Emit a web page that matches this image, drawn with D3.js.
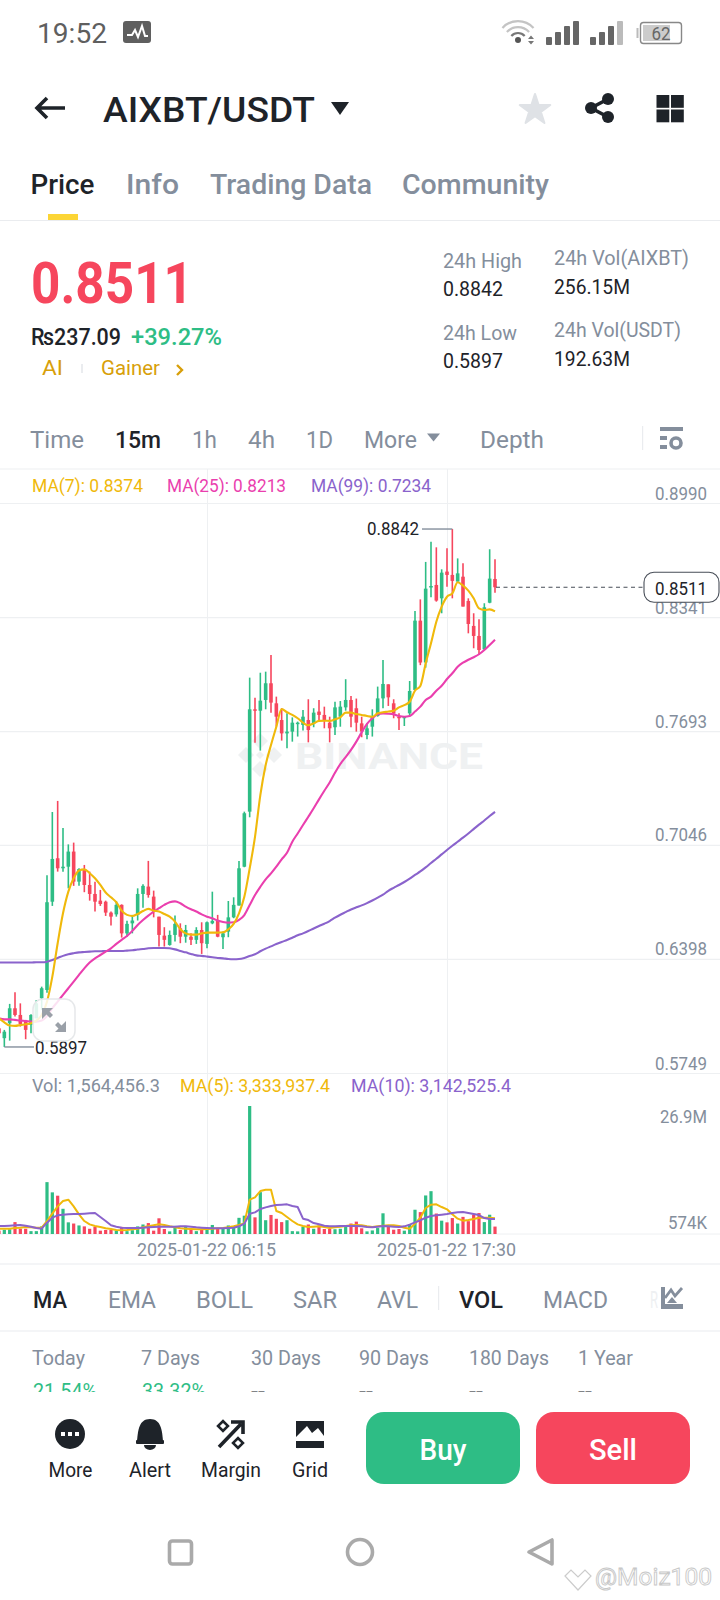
<!DOCTYPE html>
<html lang="en">
<head>
<meta charset="UTF-8">
<title>AIXBT/USDT</title>
<script src="https://cdn.jsdelivr.net/npm/d3@7"></script>
<style>
    body { margin: 0; background: #fff; }
    svg { display: block; font-family: Roboto, "DejaVu Sans", sans-serif; }
</style>
</head>
<body>
<svg width="720" height="1600"></svg>
<script>
// 15m candles
var opens = [
    .6003,.5947,.6032,.6117,.6079,.6047,.6022,.6060,.6174,.6221,
    .6723,.6970,.6913,.6922,.7008,.6837,.6904,.6818,.6767,.6729,
    .6723,.6661,.6651,.6705,.6543,.6600,.6648,.6767,.6809,.6752,
    .6638,.6530,.6477,.6534,.6572,.6524,.6524,.6506,.6562,.6483,
    .6600,.6619,.6521,.6553,.6634,.6701,.6922,.7235,.7817,.7809,
    .7870,.7965,.7851,.7756,.7680,.7690,.7734,.7728,.7756,.7737,
    .7804,.7785,.7741,.7715,.7775,.7828,.7870,.7823,.7737,.7671,
    .7718,.7779,.7879,.7959,.7851,.7775,.7766,.7794,.7927,.8321,
    .8083,.8510,.8524,.8448,.8600,.8581,.8543,.8571,.8433,.8291,
    .8234,.8158,.8423,.8558];
var highs = [
    .6032,.5994,.6142,.6208,.6145,.6051,.6083,.6164,.6240,.6873,
    .7233,.7296,.7142,.7049,.7059,.6913,.6932,.6894,.6837,.6790,
    .6729,.6667,.6727,.6708,.6614,.6648,.6799,.6822,.6955,.6786,
    .6638,.6578,.6559,.6644,.6600,.6591,.6543,.6578,.6606,.6610,
    .6780,.6648,.6553,.6727,.6748,.6955,.7235,.7997,.7883,.8025,
    .8031,.8126,.7889,.7823,.7794,.7771,.7747,.7813,.7874,.7823,
    .7870,.7832,.7775,.7860,.7864,.7988,.7893,.7878,.7775,.7737,
    .7817,.7946,.8097,.7959,.7874,.7794,.7775,.7978,.8376,.8442,
    .8655,.8770,.8738,.8613,.8732,.8842,.8675,.8647,.8448,.8363,
    .8329,.8420,.8727,.8670];
var lows = [
    .5956,.5897,.5933,.6070,.6013,.5941,.5975,.6060,.6108,.6206,
    .6699,.6894,.6894,.6799,.6813,.6814,.6777,.6729,.6667,.6699,
    .6642,.6587,.6638,.6519,.6524,.6543,.6616,.6689,.6746,.6634,
    .6468,.6468,.6473,.6496,.6487,.6490,.6477,.6483,.6426,.6458,
    .6595,.6521,.6454,.6521,.6629,.6701,.6919,.7203,.7627,.7582,
    .7817,.7798,.7718,.7639,.7595,.7633,.7662,.7696,.7629,.7715,
    .7756,.7709,.7629,.7671,.7718,.7809,.7715,.7690,.7658,.7646,
    .7662,.7775,.7823,.7836,.7766,.7699,.7722,.7775,.7927,.8068,
    .8054,.8454,.8429,.8363,.8514,.8448,.8543,.8401,.8249,.8164,
    .8126,.8154,.8420,.8480];
var closes = [
    .5975,.5984,.6117,.6079,.6028,.5994,.6079,.6145,.6231,.6720,
    .6966,.6913,.6922,.7008,.6837,.6909,.6818,.6767,.6723,.6710,
    .6661,.6638,.6705,.6543,.6597,.6616,.6767,.6813,.6761,.6667,
    .6534,.6506,.6534,.6597,.6524,.6562,.6506,.6562,.6487,.6606,
    .6614,.6524,.6543,.6634,.6705,.6913,.7226,.7817,.7809,.7866,
    .7965,.7855,.7775,.7680,.7690,.7741,.7741,.7775,.7699,.7798,
    .7785,.7756,.7709,.7828,.7832,.7870,.7775,.7741,.7690,.7709,
    .7775,.7879,.7961,.7885,.7794,.7766,.7775,.7921,.8321,.8083,
    .8503,.8518,.8435,.8594,.8581,.8547,.8590,.8401,.8302,.8234,
    .8154,.8397,.8560,.8511];
var ma7 = [
    .6060,.6037,.6019,.6017,.6022,.6026,.6032,.6047,.6079,.6155,
    .6297,.6487,.6657,.6780,.6856,.6900,.6907,.6885,.6856,.6818,
    .6775,.6748,.6720,.6672,.6648,.6642,.6653,.6670,.6682,.6672,
    .6667,.6653,.6638,.6610,.6566,.6543,.6536,.6536,.6543,.6547,
    .6547,.6547,.6549,.6566,.6597,.6657,.6751,.6912,.7092,.7329,
    .7500,.7614,.7718,.7819,.7800,.7785,.7766,.7741,.7726,.7737,
    .7751,.7752,.7751,.7760,.7771,.7798,.7798,.7790,.7785,.7779,
    .7775,.7794,.7800,.7804,.7809,.7828,.7841,.7860,.7923,.7950,
    .8078,.8192,.8315,.8401,.8457,.8476,.8539,.8520,.8492,.8448,
    .8391,.8382,.8385,.8374];
var ma25 = [
    .6060,.6054,.6054,.6051,.6047,.6045,.6041,.6041,.6047,.6073,
    .6117,.6155,.6193,.6231,.6269,.6307,.6344,.6377,.6401,.6420,
    .6439,.6458,.6483,.6506,.6528,.6557,.6591,.6619,.6644,.6667,
    .6686,.6705,.6720,.6725,.6714,.6695,.6680,.6667,.6651,.6638,
    .6629,.6616,.6608,.6604,.6606,.6619,.6647,.6704,.6761,.6808,
    .6850,.6884,.6922,.6964,.7001,.7064,.7111,.7159,.7206,.7254,
    .7305,.7354,.7401,.7456,.7506,.7545,.7586,.7633,.7686,.7734,
    .7766,.7788,.7794,.7792,.7788,.7779,.7775,.7779,.7804,.7832,
    .7870,.7889,.7923,.7951,.7989,.8022,.8059,.8082,.8099,.8113,
    .8130,.8154,.8183,.8213];
var ma99 = [
    .6377,.6377,.6377,.6377,.6377,.6377,.6377,.6379,.6379,.6382,
    .6392,.6403,.6415,.6424,.6430,.6435,.6437,.6439,.6441,.6441,
    .6443,.6443,.6443,.6443,.6445,.6447,.6451,.6454,.6458,.6460,
    .6460,.6460,.6458,.6452,.6443,.6435,.6426,.6418,.6415,.6411,
    .6407,.6403,.6401,.6397,.6396,.6397,.6403,.6414,.6424,.6441,
    .6456,.6469,.6482,.6494,.6505,.6518,.6532,.6543,.6556,.6571,
    .6585,.6598,.6613,.6632,.6649,.6664,.6679,.6691,.6702,.6715,
    .6730,.6746,.6763,.6785,.6802,.6818,.6835,.6854,.6875,.6895,
    .6918,.6943,.6967,.6992,.7017,.7041,.7064,.7087,.7111,.7136,
    .7161,.7185,.7210,.7234];
// volume in millions
var volumes = [
    .7,.9,1.0,2.5,1.1,1.1,.6,.6,1.6,10.9,
    8.75,8.05,5.3,2.45,2.2,1.8,1.6,1.1,1.5,.7,
    .85,.85,.7,1.5,.6,.8,1.6,2.0,2.3,.7,
    3.3,1.05,.55,1.7,.85,1.7,1.1,.6,1.1,1.1,
    1.9,1.1,1.1,1.8,1.4,3.4,3.85,26.9,3.5,8.8,
    2.9,4.0,3.2,2.5,2.9,.6,.55,1.5,2.0,1.1,
    1.8,1.05,1.05,1.0,1.1,1.8,2.2,2.6,1.2,.55,
    .75,1.25,4.35,1.5,.9,1.05,.7,2.0,5.1,4.6,
    8.1,9.0,4.3,2.8,2.45,3.35,2.2,3.6,2.7,4.05,
    4.4,2.5,4.05,1.56];
var volMa5 = [
    1.12,1.12,1.12,1.26,1.33,1.47,1.40,1.33,1.33,2.73,
    4.27,5.81,6.93,7.21,5.81,4.13,2.73,2.03,1.68,1.47,
    1.19,1.05,.84,.77,.84,.98,1.12,1.40,1.61,1.82,
    2.03,1.89,1.61,1.40,1.19,1.12,1.05,.98,.98,1.05,
    1.12,1.19,1.26,1.40,1.61,1.89,2.24,7.21,7.70,9.03,
    9.31,9.31,4.83,4.41,3.57,2.73,2.03,1.68,1.47,1.54,
    1.61,1.47,1.26,1.40,1.54,1.68,1.82,1.89,1.82,1.61,
    1.47,1.61,1.75,1.82,1.82,1.68,1.33,1.12,2.17,3.43,
    5.46,6.16,6.23,5.67,5.18,4.13,3.22,2.80,2.94,3.15,
    3.43,3.43,3.43,3.33];
var volMa10 = [
    1.68,1.68,1.75,1.82,1.89,1.75,1.54,1.26,1.12,2.38,
    3.43,3.92,4.06,4.13,4.20,4.20,4.27,4.34,4.41,3.57,
    2.73,1.82,1.54,1.33,1.26,1.26,1.26,1.33,1.40,1.47,
    1.54,1.54,1.54,1.54,1.61,1.61,1.54,1.40,1.33,1.26,
    1.19,1.19,1.19,1.26,1.33,1.61,2.17,4.27,4.55,5.25,
    5.60,5.88,6.09,6.16,6.23,5.88,5.67,3.22,2.94,2.31,
    2.03,1.75,1.61,1.61,1.68,1.68,1.68,1.68,1.61,1.47,
    1.40,1.54,1.68,1.61,1.54,1.47,1.61,1.96,2.45,2.87,
    3.43,3.78,3.92,4.06,4.20,4.41,4.55,4.62,4.41,4.20,
    3.99,3.36,3.15,3.14];

var priceTicks = [0.8990, 0.8341, 0.7693, 0.7046, 0.6398, 0.5749];
var volTicks = [26.9, 0.574];
var volTickLabels = ['26.9M', '574K'];
var timeTicks = [39, 84];
var timeTickLabels = ['2025-01-22 06:15', '2025-01-22 17:30'];
var highIndex = 85, lowIndex = 1, lastPrice = 0.8511;

var GREEN = '#2ebd85', RED = '#f6465d', DARK = '#1e2329', GRAY = '#848e9c', LINE = '#eef0f2';
var YELLOW = '#f0b90b', PINK = '#ea3fae', PURPLE = '#8a63cc';

var svg = d3.select('svg');

// text helper, w = width to fit it to
function txt(parent, x, y, str, size, color, w, weight, anchor) {
    var t = parent.append('text').attr('x', x).attr('y', y).text(str)
        .attr('font-size', size).attr('fill', color)
        .attr('font-weight', weight || 400).attr('text-anchor', anchor || 'start');
    if (w) t.attr('textLength', w).attr('lengthAdjust', 'spacingAndGlyphs');
    return t;
}

var x = d3.scaleLinear().domain([0, 93]).range([-1, 495]);
var y = d3.scaleLinear().domain([0.5749, 0.8990]).range([1073, 503]);
var vy = d3.scaleLinear().domain([0, 26.9]).range([1234, 1106]);

drawHeader();
drawChart();
drawFooter();

function drawChart() {
    var idx = d3.range(opens.length);
    var color = function (i) { return closes[i] >= opens[i] ? GREEN : RED; };

    // borders
    svg.append('line').attr('x1', 0).attr('x2', 720).attr('y1', 469).attr('y2', 469).attr('stroke', LINE).attr('stroke-width', 1.2);
    svg.append('line').attr('x1', 0).attr('x2', 720).attr('y1', 1234).attr('y2', 1234).attr('stroke', LINE);

    // time axis gives the two vertical grid lines
    var timeAxis = svg.append('g').attr('transform', 'translate(0,1234)')
        .call(d3.axisBottom(x).tickValues(timeTicks).tickSize(-765).tickPadding(10)
            .tickFormat(function (d, i) { return timeTickLabels[i]; }));
    timeAxis.select('.domain').remove();
    timeAxis.selectAll('line').attr('stroke', LINE);
    timeAxis.selectAll('text').attr('font-size', 17.5).attr('fill', GRAY).attr('font-family', 'Roboto')
        .attr('x', -1).attr('y', 21.5).attr('dy', 0).attr('textLength', 139).attr('lengthAdjust', 'spacingAndGlyphs');

    // price axis
    var priceAxis = svg.append('g').attr('transform', 'translate(720,0)')
        .call(d3.axisLeft(y).tickValues(priceTicks).tickSize(720).tickFormat(d3.format('.4f')));
    priceAxis.select('.domain').remove();
    priceAxis.selectAll('line').attr('stroke', LINE).attr('stroke-width', 1.2);
    priceAxis.selectAll('text').attr('x', -13).attr('dy', 0).attr('y', -4).attr('text-anchor', 'end')
        .attr('font-size', 17.5).attr('fill', GRAY).attr('font-family', 'Roboto')
        .attr('textLength', 52).attr('lengthAdjust', 'spacingAndGlyphs');

    // watermark
    var wm = svg.append('g').attr('fill', '#eff1f2');
    txt(wm, 295, 769, 'BINANCE', 37, '#eff1f2', 188, 700);
    [[260, 741], [246, 755], [274, 755], [260, 769]].forEach(function (p) {
        wm.append('path').attr('transform', 'translate(' + p[0] + ',' + p[1] + ')').attr('d', 'M0,-8L8,0L0,8L-8,0Z');
    });
    wm.append('path').attr('transform', 'translate(260,755)').attr('d', 'M0,-4L4,0L0,4L-4,0Z');

    // volume bars
    svg.append('g').selectAll('rect').data(idx).enter().append('rect')
        .attr('x', function (i) { return x(i) - 1.6; })
        .attr('width', 3.2)
        .attr('y', function (i) { return vy(volumes[i]); })
        .attr('height', function (i) { return vy(0) - vy(volumes[i]); })
        .attr('fill', color);

    // candles
    var candles = svg.append('g').selectAll('g').data(idx).enter().append('g').attr('fill', color).attr('stroke', color);
    candles.append('line')
        .attr('x1', function (i) { return x(i); }).attr('x2', function (i) { return x(i); })
        .attr('y1', function (i) { return y(highs[i]); }).attr('y2', function (i) { return y(lows[i]); })
        .attr('stroke-width', 1.6);
    candles.append('rect').attr('stroke', 'none')
        .attr('x', function (i) { return x(i) - 1.8; })
        .attr('width', 3.6)
        .attr('y', function (i) { return y(Math.max(opens[i], closes[i])); })
        .attr('height', function (i) { return Math.max(1.5, Math.abs(y(opens[i]) - y(closes[i]))); });

    // moving averages
    var priceLine = d3.line().x(function (d, i) { return x(i); }).y(function (d) { return y(d); }).curve(d3.curveMonotoneX);
    var volLine = d3.line().x(function (d, i) { return x(i); }).y(function (d) { return vy(d); });
    [[ma99, PURPLE], [ma25, PINK], [ma7, YELLOW]].forEach(function (s) {
        svg.append('path').attr('d', priceLine(s[0])).attr('fill', 'none').attr('stroke', s[1]).attr('stroke-width', 2.1).attr('stroke-linejoin', 'round');
    });
    [[volMa5, YELLOW], [volMa10, PURPLE]].forEach(function (s) {
        svg.append('path').attr('d', volLine(s[0])).attr('fill', 'none').attr('stroke', s[1]).attr('stroke-width', 2).attr('stroke-linejoin', 'round');
    });

    // volume axis labels
    var volAxis = svg.append('g').attr('transform', 'translate(720,0)')
        .call(d3.axisLeft(vy).tickValues(volTicks).tickSize(0)
            .tickFormat(function (d, i) { return volTickLabels[i]; }));
    volAxis.select('.domain').remove();
    volAxis.selectAll('text').attr('x', -13).attr('text-anchor', 'end').attr('font-size', 17.5)
        .attr('fill', GRAY).attr('font-family', 'Roboto')
        .attr('textLength', function (d, i) { return i == 0 ? 47 : 39; }).attr('lengthAdjust', 'spacingAndGlyphs')
        .attr('dy', function (d, i) { return i == 0 ? 16 : -3; });

    // high and low marks
    svg.append('path').attr('d', 'M422,' + y(highs[highIndex]) + 'H' + x(highIndex)).attr('stroke', GRAY).attr('stroke-width', 1.4).attr('fill', 'none');
    txt(svg, 367, y(highs[highIndex]) + 5.6, d3.format('.4f')(highs[highIndex]), 17.5, DARK, 52);
    svg.append('path').attr('d', 'M' + x(lowIndex) + ',' + y(lows[lowIndex]) + 'H34').attr('stroke', GRAY).attr('stroke-width', 1.4).attr('fill', 'none');
    txt(svg, 35, y(lows[lowIndex]) + 7.5, d3.format('.4f')(lows[lowIndex]), 17.5, DARK, 52);

    // last price
    svg.append('line').attr('x1', 496).attr('x2', 644).attr('y1', y(lastPrice)).attr('y2', y(lastPrice))
        .attr('stroke', '#474d57').attr('stroke-width', 1.1).attr('stroke-dasharray', '4,3.5');
    svg.append('rect').attr('x', 644).attr('y', y(lastPrice) - 15).attr('width', 75).attr('height', 30).attr('rx', 10)
        .attr('fill', '#fff').attr('stroke', '#474d57').attr('stroke-width', 1.1);
    txt(svg, 655, y(lastPrice) + 8, d3.format('.4f')(lastPrice), 17.5, DARK, 52);

    // legends
    txt(svg, 32, 492, 'MA(7): 0.8374', 17.5, YELLOW, 111);
    txt(svg, 167, 492, 'MA(25): 0.8213', 17.5, PINK, 119);
    txt(svg, 311, 492, 'MA(99): 0.7234', 17.5, PURPLE, 120);
    txt(svg, 32, 1092, 'Vol: 1,564,456.3', 17.5, GRAY, 128);
    txt(svg, 180, 1092, 'MA(5): 3,333,937.4', 17.5, YELLOW, 150);
    txt(svg, 351, 1092, 'MA(10): 3,142,525.4', 17.5, PURPLE, 160);

    // expand button on top of the candles
    var btn = svg.append('g');
    btn.append('rect').attr('x', 33).attr('y', 999).attr('width', 42).attr('height', 42).attr('rx', 10)
        .attr('fill', '#fff').attr('fill-opacity', .85).attr('stroke', '#e6e8ea').attr('stroke-width', 1.5);
    btn.append('path').attr('fill', '#9aa0a8').attr('d', 'M42,1008H53L49.5,1011.5L53,1015L50,1018L46.5,1014.5L42,1019Z');
    btn.append('path').attr('fill', '#9aa0a8').attr('d', 'M66,1032H55L58.5,1028.5L55,1025L58,1022L61.5,1025.5L66,1021Z');
}

function drawHeader() {
    // status bar
    txt(svg, 37, 43, '19:52', 27, '#5f5f5f', 70);
    svg.append('rect').attr('x', 123).attr('y', 21).attr('width', 28).attr('height', 22).attr('rx', 3).attr('fill', '#5f5f5f');
    svg.append('path').attr('d', 'M127,35H132L135,30L138,37L142,26L145,36H148').attr('fill', 'none').attr('stroke', '#fff').attr('stroke-width', 2);
    [[21, '#c4c4c4'], [15, '#c4c4c4'], [9, '#777']].forEach(function (a) {
        var r = a[0];
        svg.append('path').attr('d', 'M' + (518 - r * .74) + ',' + (42 - r * .67) + 'A' + r + ',' + r + ' 0 0 1 ' + (518 + r * .74) + ',' + (42 - r * .67))
            .attr('fill', 'none').attr('stroke', a[1]).attr('stroke-width', 2.2);
    });
    svg.append('circle').attr('cx', 518).attr('cy', 40).attr('r', 3).attr('fill', '#555');
    svg.append('path').attr('d', 'M528,39L531,35.5L534,39ZM528,41L531,44.5L534,41Z').attr('fill', '#777');
    [546, 590].forEach(function (sx, n) {
        [8, 13, 19, 24].forEach(function (h, j) {
            svg.append('rect').attr('x', sx + j * 9).attr('y', 45 - h).attr('width', 6).attr('height', h).attr('rx', 1)
                .attr('fill', n == 1 && j == 3 ? '#bbb' : '#666');
        });
    });
    svg.append('rect').attr('x', 640.5).attr('y', 22.5).attr('width', 41).attr('height', 21).attr('rx', 3).attr('fill', 'none').attr('stroke', '#888').attr('stroke-width', 1.4);
    svg.append('rect').attr('x', 643).attr('y', 25).attr('width', 27).attr('height', 16).attr('fill', '#ccc');
    svg.append('rect').attr('x', 636.5).attr('y', 28).attr('width', 2).attr('height', 10).attr('fill', '#bbb');
    txt(svg, 661, 40, '62', 18, '#666', 19, 400, 'middle');

    // title bar
    svg.append('path').attr('d', 'M65,108H38M47,98L37,108L47,118').attr('fill', 'none').attr('stroke', DARK).attr('stroke-width', 3.6);
    txt(svg, 103, 122, 'AIXBT/USDT', 35, DARK, 212, 500);
    svg.append('path').attr('d', 'M331,102H349L340,115Z').attr('fill', DARK);
    svg.append('path').attr('transform', 'translate(535,110)').attr('d', d3.symbol().type(d3.symbolStar).size(290)()).attr('fill', '#dfe2e6').attr('stroke', '#dfe2e6').attr('stroke-width', 2).attr('stroke-linejoin', 'round');
    svg.append('path').attr('d', 'M608,99L591,108L608,117').attr('fill', 'none').attr('stroke', DARK).attr('stroke-width', 3.6);
    [[591, 108], [608, 99], [608, 117]].forEach(function (c) {
        svg.append('circle').attr('cx', c[0]).attr('cy', c[1]).attr('r', 6).attr('fill', DARK);
    });
    [[656.5, 95], [671, 95], [656.5, 109.5], [671, 109.5]].forEach(function (c) {
        svg.append('rect').attr('x', c[0]).attr('y', c[1]).attr('width', 12.8).attr('height', 12.8).attr('fill', DARK);
    });

    // tabs
    txt(svg, 30.5, 194, 'Price', 28, DARK, 64, 500);
    txt(svg, 126, 194, 'Info', 28, GRAY, 53, 500);
    txt(svg, 210, 194, 'Trading Data', 28, GRAY, 162, 500);
    txt(svg, 402, 194, 'Community', 28, GRAY, 147, 500);
    svg.append('rect').attr('x', 48).attr('y', 214).attr('width', 30).attr('height', 6).attr('fill', '#fcd535');
    svg.append('line').attr('x1', 0).attr('x2', 720).attr('y1', 220.5).attr('y2', 220.5).attr('stroke', '#eaecef').attr('stroke-width', 1.2);

    // price block
    txt(svg, 31, 303, '0.8511', 58, RED, 162, 700);
    txt(svg, 31, 345, '₨237.09', 23, DARK, 90, 500);
    txt(svg, 131, 345, '+39.27%', 23, GREEN, 91, 500);
    txt(svg, 42, 375, 'AI', 20, '#d89f0a', 21);
    svg.append('rect').attr('x', 81).attr('y', 364).attr('width', 2).attr('height', 9).attr('fill', '#eaecef');
    txt(svg, 101, 375, 'Gainer', 20, '#d89f0a', 59);
    svg.append('path').attr('d', 'M177,365L182,370L177,375').attr('fill', 'none').attr('stroke', '#d89f0a').attr('stroke-width', 2.4);

    txt(svg, 443, 268, '24h High', 20, GRAY, 79);
    txt(svg, 443, 296, '0.8842', 20, DARK, 60);
    txt(svg, 554, 265, '24h Vol(AIXBT)', 20, GRAY, 135);
    txt(svg, 554, 294, '256.15M', 20, DARK, 76);
    txt(svg, 443, 340, '24h Low', 20, GRAY, 74);
    txt(svg, 443, 368, '0.5897', 20, DARK, 60);
    txt(svg, 554, 337, '24h Vol(USDT)', 20, GRAY, 127);
    txt(svg, 554, 366, '192.63M', 20, DARK, 76);

    // interval row
    txt(svg, 30, 448, 'Time', 24, GRAY, 54);
    txt(svg, 115, 448, '15m', 24, DARK, 46, 500);
    txt(svg, 192, 448, '1h', 24, GRAY, 25);
    txt(svg, 248, 448, '4h', 24, GRAY, 27);
    txt(svg, 306, 448, '1D', 24, GRAY, 27);
    txt(svg, 364, 448, 'More', 24, GRAY, 53);
    svg.append('path').attr('d', 'M427,433.5H440L433.5,441.5Z').attr('fill', GRAY);
    txt(svg, 480, 448, 'Depth', 24, GRAY, 64);
    svg.append('rect').attr('x', 642).attr('y', 426).attr('width', 1.2).attr('height', 24).attr('fill', '#eaecef');
    svg.append('rect').attr('x', 660).attr('y', 427).attr('width', 23).attr('height', 4).attr('fill', GRAY);
    svg.append('rect').attr('x', 660).attr('y', 436).attr('width', 7).attr('height', 4).attr('fill', GRAY);
    svg.append('rect').attr('x', 660).attr('y', 445).attr('width', 7).attr('height', 4).attr('fill', GRAY);
    svg.append('circle').attr('cx', 676).attr('cy', 443).attr('r', 5).attr('fill', 'none').attr('stroke', GRAY).attr('stroke-width', 3.6);
}

function drawFooter() {
    svg.append('line').attr('x1', 0).attr('x2', 720).attr('y1', 1264).attr('y2', 1264).attr('stroke', '#eaecef').attr('stroke-width', 1.2);

    // indicator row
    txt(svg, 33, 1308, 'MA', 24, DARK, 34, 500);
    txt(svg, 108, 1308, 'EMA', 24, GRAY, 48);
    txt(svg, 196, 1308, 'BOLL', 24, GRAY, 57);
    txt(svg, 293, 1308, 'SAR', 24, GRAY, 44);
    txt(svg, 377, 1308, 'AVL', 24, GRAY, 41);
    svg.append('rect').attr('x', 438).attr('y', 1286).attr('width', 1.2).attr('height', 24).attr('fill', '#eaecef');
    txt(svg, 459, 1308, 'VOL', 24, DARK, 44, 500);
    txt(svg, 543, 1308, 'MACD', 24, GRAY, 65);
    txt(svg, 650, 1308, 'R', 24, '#eef0f2', 8);
    svg.append('rect').attr('x', 661).attr('y', 1287).attr('width', 4).attr('height', 22).attr('fill', GRAY);
    svg.append('rect').attr('x', 661).attr('y', 1304).attr('width', 22).attr('height', 5).attr('fill', GRAY);
    svg.append('path').attr('d', 'M665,1298L671,1290L675,1296L682,1288').attr('fill', 'none').attr('stroke', GRAY).attr('stroke-width', 2.8);
    svg.append('path').attr('d', 'M667,1303L672,1297L677,1303Z').attr('fill', GRAY);
    svg.append('line').attr('x1', 0).attr('x2', 720).attr('y1', 1331).attr('y2', 1331).attr('stroke', '#eaecef').attr('stroke-width', 1.2);

    // performance row, the values are cut off by the bottom bar
    txt(svg, 32, 1365, 'Today', 20, GRAY, 53);
    txt(svg, 141, 1365, '7 Days', 20, GRAY, 59);
    txt(svg, 251, 1365, '30 Days', 20, GRAY, 70);
    txt(svg, 359, 1365, '90 Days', 20, GRAY, 70);
    txt(svg, 469, 1365, '180 Days', 20, GRAY, 80);
    txt(svg, 578, 1365, '1 Year', 20, GRAY, 55);
    txt(svg, 33, 1398, '21.54%', 20, GREEN, 64);
    txt(svg, 142, 1398, '33.32%', 20, GREEN, 64);
    [251, 359, 469, 578].forEach(function (dx) { txt(svg, dx, 1398, '--', 20, DARK, 14); });
    svg.append('rect').attr('x', 0).attr('y', 1392).attr('width', 720).attr('height', 208).attr('fill', '#fff');

    // bottom bar
    svg.append('circle').attr('cx', 70).attr('cy', 1434).attr('r', 15).attr('fill', DARK);
    [63, 70, 77].forEach(function (dx) { svg.append('rect').attr('x', dx - 2).attr('y', 1432).attr('width', 4).attr('height', 4).attr('fill', '#fff'); });
    txt(svg, 70.5, 1477, 'More', 21, DARK, 44, 400, 'middle');
    svg.append('path').attr('d', 'M137,1441C138,1430 139,1419 150,1419C161,1419 162,1430 163,1441Z').attr('fill', DARK);
    svg.append('rect').attr('x', 136).attr('y', 1440).attr('width', 28).attr('height', 4).attr('rx', 1).attr('fill', DARK);
    svg.append('path').attr('d', 'M144,1445H156A6,5 0 0 1 144,1445Z').attr('fill', DARK);
    txt(svg, 150, 1477, 'Alert', 21, DARK, 42, 400, 'middle');
    svg.append('path').attr('d', 'M219,1447L241,1424M231,1422H243V1434').attr('fill', 'none').attr('stroke', DARK).attr('stroke-width', 3.6);
    svg.append('path').attr('transform', 'translate(223,1426)rotate(45)').attr('d', 'M-3.5,-3.5H3.5V3.5H-3.5Z').attr('fill', 'none').attr('stroke', DARK).attr('stroke-width', 2.6);
    svg.append('path').attr('transform', 'translate(238,1443)rotate(45)').attr('d', 'M-3.5,-3.5H3.5V3.5H-3.5Z').attr('fill', 'none').attr('stroke', DARK).attr('stroke-width', 2.6);
    txt(svg, 231, 1477, 'Margin', 21, DARK, 60, 400, 'middle');
    svg.append('path').attr('d', 'M296,1421H324V1436L318,1428L312,1433L307,1426L296,1437Z').attr('fill', DARK);
    svg.append('rect').attr('x', 296).attr('y', 1441).attr('width', 28).attr('height', 7).attr('fill', DARK);
    txt(svg, 310, 1477, 'Grid', 21, DARK, 36, 400, 'middle');

    svg.append('rect').attr('x', 366).attr('y', 1412).attr('width', 154).attr('height', 72).attr('rx', 18).attr('fill', GREEN);
    svg.append('rect').attr('x', 536).attr('y', 1412).attr('width', 154).attr('height', 72).attr('rx', 18).attr('fill', RED);
    txt(svg, 443, 1460, 'Buy', 30, '#fff', 47, 500, 'middle');
    txt(svg, 613, 1460, 'Sell', 30, '#fff', 48, 500, 'middle');

    // nav bar
    svg.append('rect').attr('x', 169.5).attr('y', 1541).attr('width', 22).attr('height', 23).attr('rx', 3).attr('fill', 'none').attr('stroke', '#aaa').attr('stroke-width', 3.6);
    svg.append('circle').attr('cx', 360).attr('cy', 1552).attr('r', 12.5).attr('fill', 'none').attr('stroke', '#aaa').attr('stroke-width', 3.6);
    svg.append('path').attr('d', 'M552,1540V1564L529,1552Z').attr('fill', 'none').attr('stroke', '#aaa').attr('stroke-width', 3.6).attr('stroke-linejoin', 'round');
    txt(svg, 595, 1585, '@Moiz100', 24, '#fff', 117).attr('stroke', '#c8c8c8').attr('stroke-width', .9);
    svg.append('path').attr('d', 'M565,1576L571,1570L578,1577L585,1570L591,1576L578,1590Z').attr('fill', 'none').attr('stroke', '#ccc').attr('stroke-width', 1.2);
}
</script>
</body>
</html>
